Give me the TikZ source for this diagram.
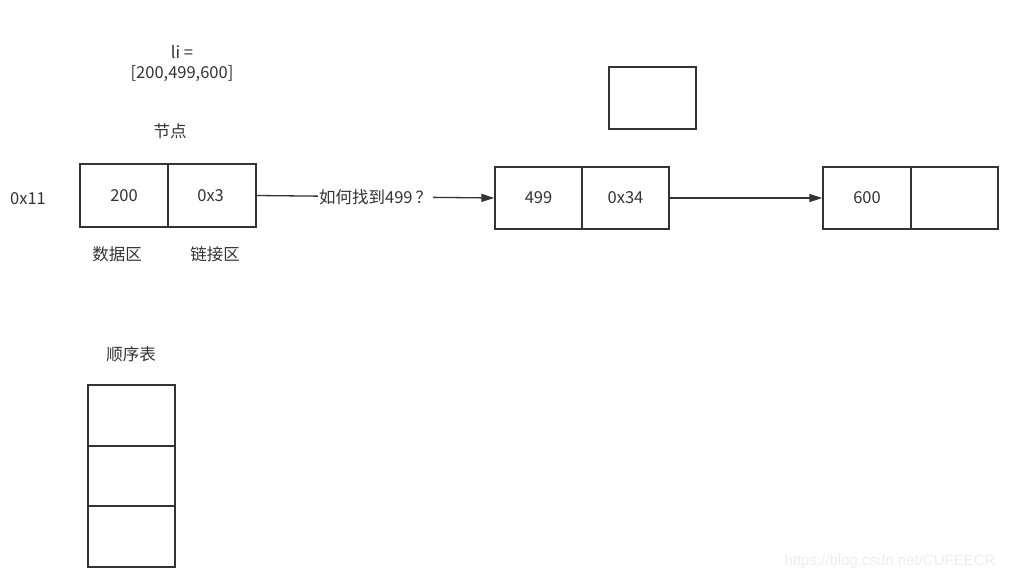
\documentclass[tikz,border=0pt]{standalone}
\usepackage{fontspec}
\setmainfont{Noto Sans CJK SC}
\newfontfamily\wmfont{Liberation Sans}
\usetikzlibrary{arrows.meta}
\definecolor{ink}{HTML}{333333}
\tikzset{
  cell/.style={draw=ink, line width=1.4pt, minimum width=88pt, minimum height=62pt, inner sep=0pt, font=\fontsize{16.5}{19}\selectfont, text=ink},
  lbl/.style={inner sep=0pt, font=\fontsize{16.5}{19}\selectfont, text=ink},
  arr/.style={draw=ink, line width=1.3pt, -{Triangle[length=13pt,width=8pt]}}
}
\begin{document}
\begin{tikzpicture}[x=1pt,y=-1pt]
\useasboundingbox (0,0) rectangle (1012,579);
% labels
\node[lbl] (li) at (182,52) {li =};
\node[lbl] (list) at (182,74) {[200,499,600]};
\node[lbl] (jd) at (170,131) {节点};
\node[lbl] (addr) at (28,199) {0x11};
\node[lbl] (sjq) at (117,254) {数据区};
\node[lbl] (ljq) at (215,254) {链接区};
\node[lbl] (sxb) at (131,354) {顺序表};
% node 1
\node[cell, minimum height=63pt] (a1) at (124,195.5) {200};
\node[cell, minimum height=63pt] (a2) at (212,195.5) {0x3\,};
% node 2
\node[cell, minimum width=87pt] (b1) at (538.5,198) {499};
\node[cell, minimum width=87pt] (b2) at (625.5,198) {0x34};
% node 3
\node[cell] (c1) at (867,198) {600};
\node[cell, minimum width=87pt] (c2) at (954.5,198) {};
% lone box
\node[cell, minimum width=87pt] (lone) at (652.5,98) {};
% sequence table
\node[cell, minimum width=87pt, minimum height=61pt] (s1) at (131.5,415.5) {};
\node[cell, minimum width=87pt, minimum height=60pt] (s2) at (131.5,476) {};
\node[cell, minimum width=87pt, minimum height=61pt] (s3) at (131.5,536.5) {};
% connectors
\draw[arr] (a2.east) -- node[lbl, fill=white, inner sep=1pt] (q) {如何找到499\,？} (b1.west);
\draw[arr] (b2.east) -- (c1.west);
% watermark
\node[inner sep=0pt, text=black!7, font=\fontsize{15}{17}\selectfont\wmfont] (wm) at (890,562) {https://blog.csdn.net/CUFEECR};
\end{tikzpicture}
\end{document}
